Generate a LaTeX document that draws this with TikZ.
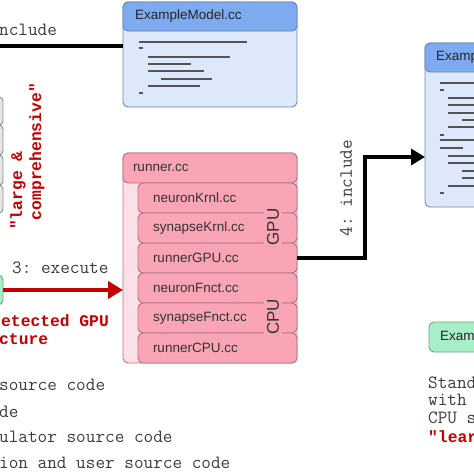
\documentclass[tikz,border=0pt]{standalone}
\usepackage{fontspec}
\setmainfont{Liberation Sans}
\newfontfamily\codefont{Liberation Mono}
\usetikzlibrary{positioning,arrows.meta}

\definecolor{headblue}{HTML}{7EAAF0}
\definecolor{bodyblue}{HTML}{DDE9FB}
\definecolor{lineblue}{HTML}{6A86AD}
\definecolor{headpink}{HTML}{F9A5B6}
\definecolor{bodypink}{HTML}{FCE0E8}
\definecolor{linepink}{HTML}{B27083}
\definecolor{fillgreen}{HTML}{A8EEC8}
\definecolor{linegreen}{HTML}{6FA386}
\definecolor{fillgray}{HTML}{E6E6E6}
\definecolor{linegray}{HTML}{8C8C8C}
\definecolor{codered}{HTML}{C40000}
\definecolor{codegray}{HTML}{3C3C3C}
\definecolor{stroke}{HTML}{555555}

\tikzset{
  codeline/.style={draw=stroke, line width=2.4pt},
  filebody/.style={draw=lineblue, fill=bodyblue, line width=0.9pt, rounded corners=5pt,
    inner sep=0pt, outer sep=0pt, anchor=north west},
  filehead/.style={draw=lineblue, fill=headblue, line width=0.9pt, rounded corners=5pt,
    inner xsep=12pt, inner ysep=0pt, outer sep=0pt, minimum height=29pt, anchor=north west,
    align=left, text=black!85, font=\fontsize{13.5}{16}\selectfont},
  runnerbody/.style={draw=linepink, fill=bodypink, line width=0.9pt, rounded corners=5pt,
    inner sep=0pt, outer sep=0pt, anchor=north west},
  part/.style={draw=linepink, fill=headpink, line width=0.9pt, rounded corners=5pt,
    text width=129pt, inner xsep=15pt, inner ysep=0pt, outer sep=0pt, minimum height=30pt,
    align=left, text=black!80, font=\fontsize{13.5}{16}\selectfont},
  unitlabel/.style={fill=headpink, rotate=90, inner xsep=4pt, inner ysep=3pt,
    text=black!80, font=\fontsize{17}{20}\selectfont},
  graystub/.style={draw=linegray, fill=fillgray, line width=0.9pt, rounded corners=4pt,
    minimum width=40pt, outer sep=0pt, anchor=north east},
  greenstub/.style={draw=linegreen, fill=fillgreen, line width=0.9pt, rounded corners=5pt,
    outer sep=0pt, minimum height=30pt},
  codetext/.style={font=\ttfamily\frenchspacing\fontsize{18.7}{20}\selectfont, text=codegray, inner sep=0pt},
  redtext/.style={font=\codefont\bfseries\frenchspacing\fontsize{16.3}{19}\selectfont, text=codered, inner sep=0pt},
  flow/.style={line width=3.5pt, -{Triangle[length=14pt,width=16pt]}},
  exec/.style={draw=codered, line width=4pt, -{Triangle[length=15pt,width=17pt]}}
}

\begin{document}
\begin{tikzpicture}[x=1pt,y=-1pt]
  \useasboundingbox (0,0) rectangle (474,474);
  \clip (0,0) rectangle (474,474);

  % model file, top
  \coordinate (inc) at (-5,46);
  \node[filebody, minimum width=174pt, minimum height=105pt] (model) at (123,2) {};
  \draw[line width=3.5pt] (inc) -- (inc -| model.west);
  \node[filehead, text width=150pt] (modelhead) at (123,2) {ExampleModel.cc};
  \begin{scope}[shift={(123,2)}]
    \draw[codeline] (16,40) -- (124,40);
    \draw[codeline] (16,46) -- (20,46);
    \draw[codeline] (25,55) -- (107,55);
    \draw[codeline] (25,62) -- (68,62);
    \draw[codeline] (25,69) -- (81,69);
    \draw[codeline] (38,77) -- (89,77);
    \draw[codeline] (25,84) -- (77,84);
    \draw[codeline] (16,91) -- (20,91);
  \end{scope}
  \node[codetext, anchor=base west] (inctext) at (-1,35) {nclude};

  % generated file, right
  \node[filebody, minimum width=100pt, minimum height=164pt] (ext) at (425,43) {};
  \node[filehead, text width=80pt, inner xsep=11pt] (exthead) at (425,43) {Examp};
  \begin{scope}[shift={(425,43)}]
    \draw[codeline] (15,40) -- (80,40);
    \draw[codeline] (15,47) -- (19,47);
    \draw[codeline] (23,55) -- (80,55);
    \draw[codeline] (23,62) -- (80,62);
    \draw[codeline] (23,70) -- (80,70);
    \draw[codeline] (37,77) -- (80,77);
    \draw[codeline] (23,84) -- (80,84);
    \draw[codeline] (15,92) -- (19,92);
    \draw[codeline] (15,97) -- (80,97);
    \draw[codeline] (15,105) -- (38,105);
    \draw[codeline] (23,113) -- (80,113);
    \draw[codeline] (23,120) -- (80,120);
    \draw[codeline] (37,128) -- (80,128);
    \draw[codeline] (37,135) -- (80,135);
    \draw[codeline] (23,143) -- (80,143);
    \draw[codeline] (15,150) -- (19,150);
  \end{scope}

  % stubs on the left edge
  \node[graystub, minimum height=28pt] (lib1) at (3,97) {};
  \node[graystub, minimum height=30pt] (lib2) at (3,125) {};
  \node[graystub, minimum height=30pt] (lib3) at (3,155) {};
  \node[graystub, minimum height=28pt] (lib4) at (3,185) {};
  \node[greenstub, minimum width=40pt, anchor=north east] (launch) at (3,275) {};
  \node[redtext, rotate=90, anchor=north west, align=left] (bignote) at (10,230)
    {"large \&\\\hphantom{"}comprehensive"};

  % runner
  \node[runnerbody, minimum width=174pt, minimum height=210pt] (runner) at (123,153) {};
  \node[part, text width=154pt, inner xsep=10pt, anchor=north west] (runnerhead) at (123,153) {runner.cc};
  \node[part, anchor=north west] (nkrnl) at (138,183) {neuronKrnl.cc};
  \node[part, below=0pt of nkrnl] (skrnl) {synapseKrnl.cc};
  \node[part, below=0pt of skrnl] (rgpu) {runnerGPU.cc};
  \node[part, below=0pt of rgpu] (nfnct) {neuronFnct.cc};
  \node[part, below=0pt of nfnct] (sfnct) {synapseFnct.cc};
  \node[part, below=0pt of sfnct] (rcpu) {runnerCPU.cc};
  \node[unitlabel] (gpu) at (273,227) {GPU};
  \node[unitlabel] (cpu) at (273,317) {CPU};

  % execute
  \draw[exec] (launch.east) -- (launch.east -| runner.west);
  \node[codetext, anchor=base west] (exectext) at (12,273) {3: execute};
  \node[redtext, anchor=base west] (gpunote1) at (1,326) {etected GPU};
  \node[redtext, anchor=base west] (gpunote2) at (-1,344) {cture};

  % include
  \coordinate (bend) at (365,157);
  \draw[flow] (rgpu.east) -| (bend) -- (bend -| ext.west);
  \node[codetext, rotate=90] (inc4) at (346,188) {4: include};

  \node[greenstub, text width=60pt, inner xsep=11pt, align=left, anchor=north west,
    font=\fontsize{13.5}{16}\selectfont, text=black!85] (extgreen) at (429,322) {Examp};

  % notes
  \node[codetext, anchor=base west] (note1) at (428,388) {Stand};
  \node[codetext, anchor=base west] (note2) at (428,405) {with};
  \node[codetext, anchor=base west] (note3) at (428,423) {CPU s};
  \node[redtext, anchor=base west] (note4) at (428,442) {"lear};

  % legend
  \node[codetext, anchor=base west] (leg1) at (-1,390) {source code};
  \node[codetext, anchor=base west] (leg2) at (-1,417) {de};
  \node[codetext, anchor=base west] (leg3) at (-1,442) {ulator source code};
  \node[codetext, anchor=base west] (leg4) at (-1,468) {ion and user source code};
\end{tikzpicture}
\end{document}
